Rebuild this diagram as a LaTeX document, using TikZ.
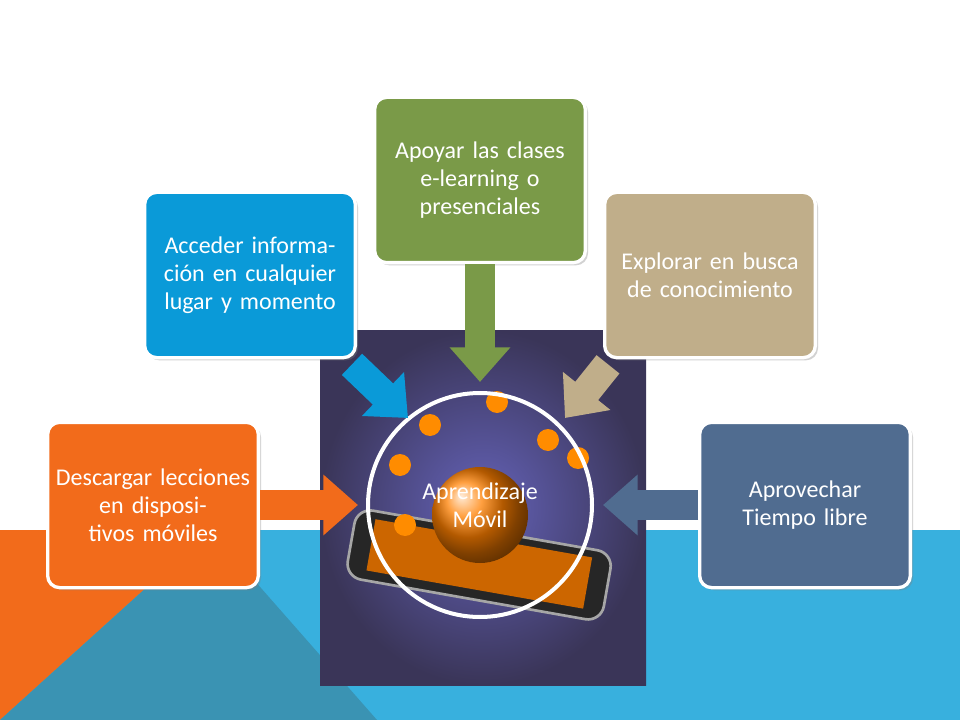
\documentclass[tikz,border=0pt]{standalone}
\usepackage{fontspec}
\setmainfont{Carlito}
\usetikzlibrary{arrows.meta,shadows}
\definecolor{cblue}{HTML}{0A9AD8}
\definecolor{cgreen}{HTML}{7A9A48}
\definecolor{ctan}{HTML}{C0AE8A}
\definecolor{corange}{HTML}{F26B1B}
\definecolor{cslate}{HTML}{506C90}
\definecolor{band}{HTML}{38B0DE}
\definecolor{teal}{HTML}{3A93B3}
\definecolor{purp}{HTML}{3A3558}
\tikzset{
 box/.style={draw=white,line width=2.5pt,rounded corners=9pt,minimum width=158pt,minimum height=124pt,text width=150pt,align=center,text=white,font=\fontsize{18}{21}\selectfont,drop shadow={opacity=0.35,shadow xshift=2pt,shadow yshift=-2pt}},
 barrow/.style={line width=22pt,-{Triangle[length=26pt,width=44pt]}},
}
\begin{document}
\begin{tikzpicture}[x=0.75pt,y=-0.75pt]
\useasboundingbox (0,0) rectangle (960,720);
\fill[white] (0,0) rectangle (960,720);
\fill[band] (0,530) rectangle (960,720);
\fill[corange] (0,530) -- (210,530) -- (0,720) -- cycle;
\fill[teal] (210,530) -- (377,720) -- (0,720) -- cycle;
% central picture
\shade[inner color=purp!60!blue!70!white,outer color=purp] (320,330) rectangle (646,685);
\node[inner sep=0,minimum size=0] (img) at (483,507) {};
\begin{scope}[shift={(480,560)},rotate=-10]
\fill[black!85,rounded corners=12pt,draw=gray!70,line width=2pt] (-130,-30) rectangle (130,40);
\fill[orange!80!black] (-110,-22) rectangle (110,30);
\end{scope}
\shade[ball color=orange] (480,515) circle (48);
\foreach \p in {(400,465),(430,425),(497,402),(548,440),(578,458),(405,525)}
  \fill[orange!90!yellow] \p circle (11);
\draw[white,line width=3pt] (480,505) circle (112);
\node[text=white,align=center,font=\fontsize{18}{21}\selectfont] (c) at (480,505) {Aprendizaje\\Móvil};
% boxes
\node[box,fill=cblue] (b1) at (250,275) {Acceder información en cualquier lugar y momento};
\node[box,fill=cgreen] (b2) at (480,180) {Apoyar las clases\\e-learning o presenciales};
\node[box,fill=ctan] (b3) at (710,275) {Explorar en busca de conocimiento};
\node[box,fill=corange] (b4) at (153,505) {Descargar lecciones en dispositivos móviles};
\node[box,fill=cslate] (b5) at (805,505) {Aprovechar Tiempo libre};
% arrows
\coordinate (a1) at (408,418);
\coordinate (a2) at (480,382);
\coordinate (a3) at (565,418);
\coordinate (a4) at (358,505);
\coordinate (a5) at (603,505);
\draw[barrow,cblue] (b1.south east) ++(-5,5) -- (a1);
\draw[barrow,cgreen] (b2.south) -- (a2);
\draw[barrow,ctan] (b3.south west) ++(5,5) -- (a3);
\draw[barrow,corange] (b4.east) -- (a4);
\draw[barrow,cslate] (b5.west) -- (a5);
\end{tikzpicture}
\end{document}
